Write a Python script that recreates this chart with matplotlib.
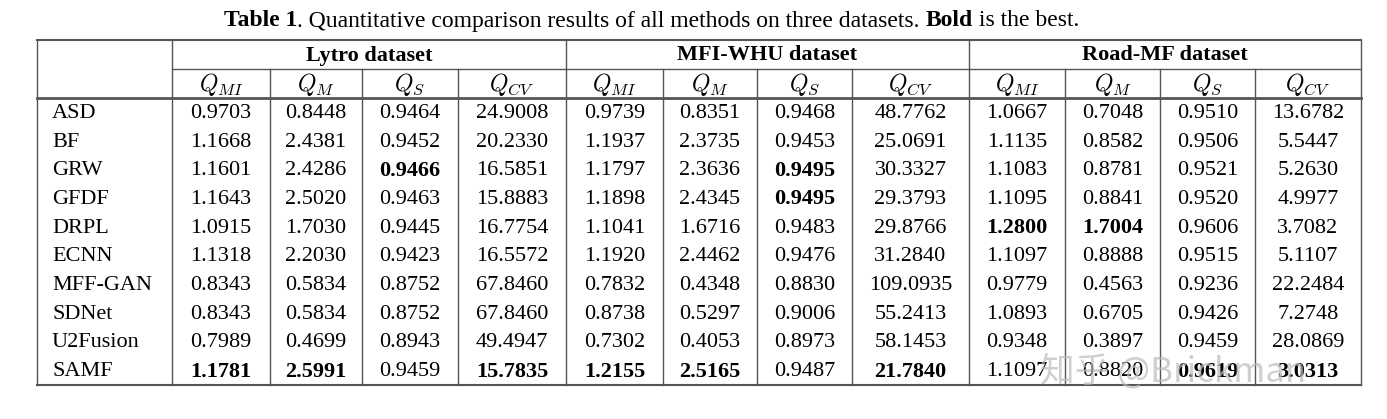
import matplotlib.pyplot as plt

plt.rcParams['font.family'] = ['Liberation Serif', 'DejaVu Serif']
plt.rcParams['mathtext.fontset'] = 'cm'

methods = ['ASD', 'BF', 'GRW', 'GFDF', 'DRPL', 'ECNN', 'MFF-GAN', 'SDNet', 'U2Fusion', 'SAMF']
datasets = ['Lytro dataset', 'MFI-WHU dataset', 'Road-MF dataset']
metrics = [r'$Q_{MI}$', r'$Q_M$', r'$Q_S$', r'$Q_{CV}$']

lytro = [
    ['0.9703', '0.8448', '0.9464', '24.9008'],
    ['1.1668', '2.4381', '0.9452', '20.2330'],
    ['1.1601', '2.4286', '0.9466', '16.5851'],
    ['1.1643', '2.5020', '0.9463', '15.8883'],
    ['1.0915', '1.7030', '0.9445', '16.7754'],
    ['1.1318', '2.2030', '0.9423', '16.5572'],
    ['0.8343', '0.5834', '0.8752', '67.8460'],
    ['0.8343', '0.5834', '0.8752', '67.8460'],
    ['0.7989', '0.4699', '0.8943', '49.4947'],
    ['1.1781', '2.5991', '0.9459', '15.7835'],
]
mfi = [
    ['0.9739', '0.8351', '0.9468', '48.7762'],
    ['1.1937', '2.3735', '0.9453', '25.0691'],
    ['1.1797', '2.3636', '0.9495', '30.3327'],
    ['1.1898', '2.4345', '0.9495', '29.3793'],
    ['1.1041', '1.6716', '0.9483', '29.8766'],
    ['1.1920', '2.4462', '0.9476', '31.2840'],
    ['0.7832', '0.4348', '0.8830', '109.0935'],
    ['0.8738', '0.5297', '0.9006', '55.2413'],
    ['0.7302', '0.4053', '0.8973', '58.1453'],
    ['1.2155', '2.5165', '0.9487', '21.7840'],
]
road = [
    ['1.0667', '0.7048', '0.9510', '13.6782'],
    ['1.1135', '0.8582', '0.9506', '5.5447'],
    ['1.1083', '0.8781', '0.9521', '5.2630'],
    ['1.1095', '0.8841', '0.9520', '4.9977'],
    ['1.2800', '1.7004', '0.9606', '3.7082'],
    ['1.1097', '0.8888', '0.9515', '5.1107'],
    ['0.9779', '0.4563', '0.9236', '22.2484'],
    ['1.0893', '0.6705', '0.9426', '7.2748'],
    ['0.9348', '0.3897', '0.9459', '28.0869'],
    ['1.1097', '0.8820', '0.9619', '3.0313'],
]
# (row, column) of bold cells, column index 0..11
bold = {(2, 2), (9, 0), (9, 1), (9, 3),
        (2, 6), (3, 6), (9, 4), (9, 5), (9, 7),
        (4, 8), (4, 9), (9, 10), (9, 11)}

fig = plt.figure(figsize=(13.87, 4.19), dpi=100)
ax = fig.add_axes([0, 0, 1, 1])
ax.set_xlim(0, 1387)
ax.set_ylim(419, 0)
ax.axis('off')

xs = [37, 172, 270, 362, 458, 566, 663, 757, 852, 969, 1065, 1160, 1255, 1361]
top, h1, h2, bottom = 40, 69, 98, 385
rh = (bottom - h2) / len(methods)
lc = '#555555'
fs = 16

# title, drawn piece by piece
pieces = [('Table 1', 'bold'), ('. Quantitative comparison results of all methods on three datasets. ', 'normal'),
          ('Bold', 'bold'), (' is the best.', 'normal')]
fig.canvas.draw()
r = fig.canvas.get_renderer()
x = 224
for s, w in pieces:
    t = ax.text(x, 21, s, fontsize=17, fontweight=w, va='center', ha='left')
    bb = t.get_window_extent(renderer=r)
    x += bb.width
# lines
for y in [top, bottom]:
    ax.plot([xs[0], xs[-1]], [y, y], color=lc, lw=1.5)
ax.plot([xs[1], xs[-1]], [h1, h1], color=lc, lw=1)
ax.plot([xs[0], xs[-1]], [h2, h2], color=lc, lw=2)
for i, xv in enumerate(xs):
    y0 = top if i in (0, 1, 5, 9, 13) else h1
    ax.plot([xv, xv], [y0, bottom], color=lc, lw=1)

# headers
for d, name in enumerate(datasets):
    cx = (xs[1 + 4 * d] + xs[5 + 4 * d]) / 2
    ax.text(cx, (top + h1) / 2 + 1, name, fontsize=16, fontweight='bold', ha='center', va='center')
    for m, lab in enumerate(metrics):
        c = 1 + 4 * d + m
        ax.text((xs[c] + xs[c + 1]) / 2, (h1 + h2) / 2 + 1, lab, fontsize=17,
                ha='center', va='center')

# body
for ri, meth in enumerate(methods):
    y = h2 + rh * (ri + 0.5) + 1
    ax.text(52, y, meth, fontsize=fs, ha='left', va='center')
    row = lytro[ri] + mfi[ri] + road[ri]
    for c, v in enumerate(row):
        ax.text((xs[c + 1] + xs[c + 2]) / 2, y, v, fontsize=fs, ha='center', va='center',
                fontweight='bold' if (ri, c) in bold else 'normal')

# watermark (as in reference, overlapping the last row)
ax.text(1040, 372, '知乎 @Brickman', fontsize=25, color='#bbbbbb', alpha=0.7,
        ha='left', va='center', family=['Noto Sans CJK SC', 'DejaVu Sans'])

fig.savefig('out.png', dpi=100)
